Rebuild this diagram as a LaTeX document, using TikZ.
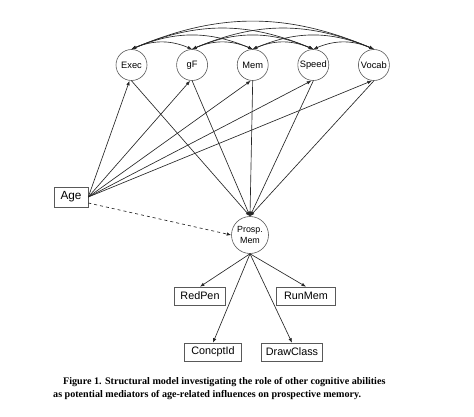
\documentclass[tikz,border=0pt]{standalone}
\usepackage{fontspec}
\setmainfont{Liberation Sans}
\newfontfamily\capfont{Liberation Serif}
\usetikzlibrary{positioning, arrows.meta}

\begin{document}
\begin{tikzpicture}[x=1pt, y=-1pt,
  every node/.style={font=\fontsize{9.3}{10}\selectfont},
  latent/.style={draw=black!65, line width=0.6pt, circle, minimum size=31pt, inner sep=0pt},
  obs/.style={draw=black!65, line width=0.6pt, rectangle, minimum height=18pt, inner sep=2pt, font=\fontsize{10.8}{12}\selectfont},
  arr/.style={-{Latex[length=4.5pt,width=3.5pt]}, black!85, line width=0.65pt},
  cov/.style={{Latex[length=4.5pt,width=3.5pt]}-{Latex[length=4.5pt,width=3.5pt]}, black!85, line width=0.65pt, bend left=23}
]
  \useasboundingbox (0,0) rectangle (474,417);

  % abilities
  \node[latent] (exec) at (131.5,65) {Exec};
  \node[latent, right=29pt of exec] (gf) {gF};
  \node[latent, right=29pt of gf] (mem) {Mem};
  \node[latent, right=29pt of mem] (speed) {Speed};
  \node[latent, right=29pt of speed] (vocab) {Vocab};

  \node[obs, minimum width=34pt, minimum height=20pt, font=\fontsize{11.8}{13}\selectfont] (age) at (71,197) {Age};
  \node[latent, minimum size=37pt, align=center, font=\fontsize{8.9}{11}\selectfont] (prosp) at (250,235) {Prosp.\\Mem};

  % indicators
  \node[obs, minimum width=51pt] (redpen) at (200,296) {RedPen};
  \node[obs, minimum width=59pt] (runmem) at (306,296) {RunMem};
  \node[obs, minimum width=57pt] (concptid) at (213,352) {ConcptId};
  \node[obs, minimum width=61pt] (drawclass) at (292,352) {DrawClass};

  \node[anchor=north west, align=left, inner sep=0pt, font=\capfont\bfseries\fontsize{10.1}{13}\selectfont] (caption) at (53,377)
    {\hspace*{10pt}Figure 1. Structural model investigating the role of other cognitive abilities\\as potential mediators of age-related influences on prospective memory.};

  % covariances
  \foreach \a/\b in {exec/gf, exec/mem, exec/speed, exec/vocab, gf/mem, gf/speed, gf/vocab, mem/speed, mem/vocab, speed/vocab}
    \draw[cov] (\a.north) to (\b.north);

  \foreach \n in {exec, gf, mem, speed, vocab} {
    \draw[arr] (age.east) -- ([xshift=-2pt]\n.south);
    \draw[arr] (\n.south) -- (prosp.north);
  }
  \draw[arr, dashed] ([yshift=-6pt]age.east) -- (prosp.west);

  \foreach \n in {redpen, runmem, concptid, drawclass}
    \draw[arr] (prosp.south) -- (\n.north);
\end{tikzpicture}
\end{document}
